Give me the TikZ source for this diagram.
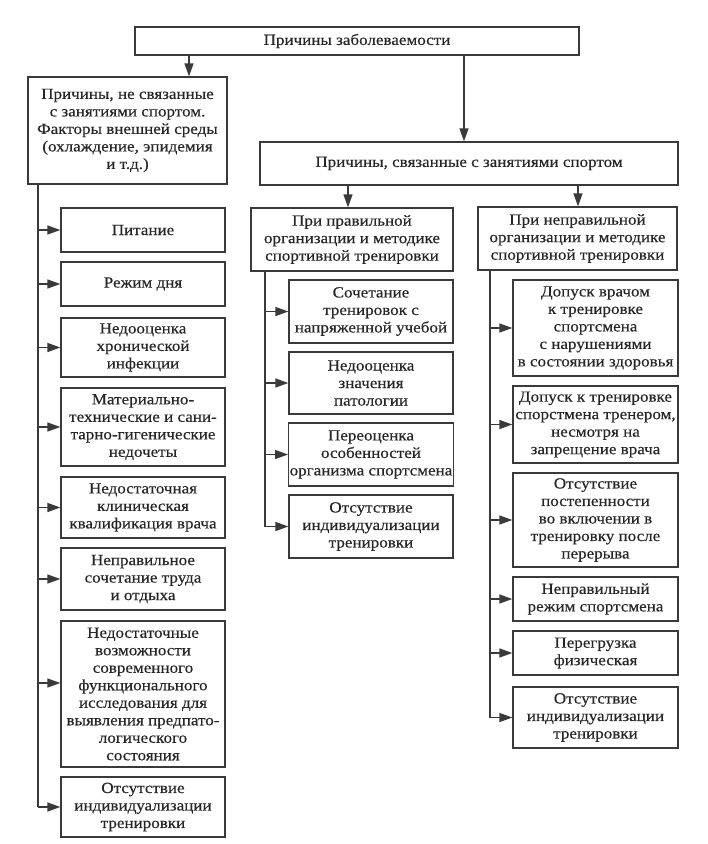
\documentclass[tikz,border=0pt]{standalone}
\usepackage{fontspec}
\setmainfont{Liberation Serif}[FakeStretch=1.1,FakeBold=0.3]
\usetikzlibrary{arrows.meta}
\definecolor{ink}{HTML}{262626}
\definecolor{linec}{HTML}{3a3a3a}
\begin{document}
\begin{tikzpicture}[x=1pt,y=-1pt,
  box/.style={draw=linec, line width=1.3pt, fill=white, text=ink, align=center, inner sep=1pt,
    font=\fontsize{15.5}{17.5}\selectfont},
  arr/.style={draw=linec, line width=1.3pt, -{Triangle[length=13pt,width=9pt]}},
  ln/.style={draw=linec, line width=1.3pt}]
\useasboundingbox[fill=white] (0,0) rectangle (708,844);
% level 0
\node[box, minimum width=444pt, minimum height=28pt] (top) at (357,41) {Причины заболеваемости};
\node[box, minimum width=199pt, minimum height=107pt] (L0) at (127.5,130.5) {Причины, не связанные\\с занятиями спортом.\\Факторы внешней среды\\(охлаждение, эпидемия\\и т.д.)};
\node[box, minimum width=418pt, minimum height=43pt] (S) at (469,163.5) {Причины, связанные с занятиями спортом};
\node[box, minimum width=202pt, minimum height=63pt] (M0) at (352,239.5) {При правильной\\организации и методике\\спортивной тренировки};
\node[box, minimum width=199pt, minimum height=63pt] (R0) at (577.5,238.5) {При неправильной\\организации и методике\\спортивной тренировки};
% left column
\node[box, minimum width=164pt, minimum height=44pt] (L1) at (143,230) {Питание};
\node[box, minimum width=164pt, minimum height=44pt] (L2) at (143,284) {Режим дня};
\node[box, minimum width=164pt, minimum height=59pt] (L3) at (143,347.5) {Недооценка\\хронической\\инфекции};
\node[box, minimum width=164pt, minimum height=78pt] (L4) at (143,427) {Материально-\\технические и сани-\\тарно-гигенические\\недочеты};
\node[box, minimum width=164pt, minimum height=61pt] (L5) at (143,507.5) {Недостаточная\\клиническая\\квалификация врача};
\node[box, minimum width=164pt, minimum height=62pt] (L6) at (143,579) {Неправильное\\сочетание труда\\и отдыха};
\node[box, minimum width=164pt, minimum height=146pt] (L7) at (143,694) {Недостаточные\\возможности\\современного\\функционального\\исследования для\\выявления предпато-\\логического\\состояния};
\node[box, minimum width=164pt, minimum height=60pt] (L8) at (143,807) {Отсутствие\\индивидуализации\\тренировки};
% middle column
\node[box, minimum width=164pt, minimum height=63pt] (M1) at (371,311.5) {Сочетание\\тренировок с\\напряженной учебой};
\node[box, minimum width=164pt, minimum height=62pt] (M2) at (371,383) {Недооценка\\значения\\патологии};
\node[box, minimum width=164pt, minimum height=63pt] (M3) at (371,454.5) {Переоценка\\особенностей\\организма спортсмена};
\node[box, minimum width=164pt, minimum height=63pt] (M4) at (371,526.5) {Отсутствие\\индивидуализации\\тренировки};
% right column
\node[box, minimum width=165pt, minimum height=96pt] (R1) at (595.5,328) {Допуск врачом\\к тренировке\\спортсмена\\с нарушениями\\в состоянии здоровья};
\node[box, minimum width=165pt, minimum height=77pt] (R2) at (595.5,424.5) {Допуск к тренировке\\спорстмена тренером,\\несмотря на\\запрещение врача};
\node[box, minimum width=165pt, minimum height=94pt] (R3) at (595.5,520) {Отсутствие\\постепенности\\во включении в\\тренировку после\\перерыва};
\node[box, minimum width=165pt, minimum height=44pt] (R4) at (595.5,599) {Неправильный\\режим спортсмена};
\node[box, minimum width=165pt, minimum height=44pt] (R5) at (595.5,653) {Перегрузка\\физическая};
\node[box, minimum width=165pt, minimum height=61pt] (R6) at (595.5,717.5) {Отсутствие\\индивидуализации\\тренировки};
% connectors from top
\coordinate (a1) at (189,55);
\coordinate (a2) at (464,55);
\draw[arr] (a1) -- (a1 |- L0.north);
\draw[arr] (a2) -- (a2 |- S.north);
\coordinate (a3) at (348,185);
\coordinate (a4) at (578,185);
\draw[arr] (a3) -- (a3 |- M0.north);
\draw[arr] (a4) -- (a4 |- R0.north);
% trunks
\coordinate (tL) at (38,184);
\coordinate (tM) at (265,271);
\coordinate (tR) at (490,270);
\draw[ln] (tL) -- (tL |- L8.west);
\draw[ln] (tM) -- (tM |- M4.west);
\draw[ln] (tR) -- (tR |- R6.west);
\foreach \n in {L1,L2,L3,L4,L5,L6,L8} {\draw[arr] (tL |- \n.west) -- (\n.west);}
\coordinate (L7a) at ([yshift=11pt]L7.west);
\draw[arr] (tL |- L7a) -- (L7a);
\foreach \n in {M1,M2,M3,M4} {\draw[arr] (tM |- \n.west) -- (\n.west);}
\foreach \n in {R1,R2,R3,R4,R5,R6} {\draw[arr] (tR |- \n.west) -- (\n.west);}
\end{tikzpicture}
\end{document}
